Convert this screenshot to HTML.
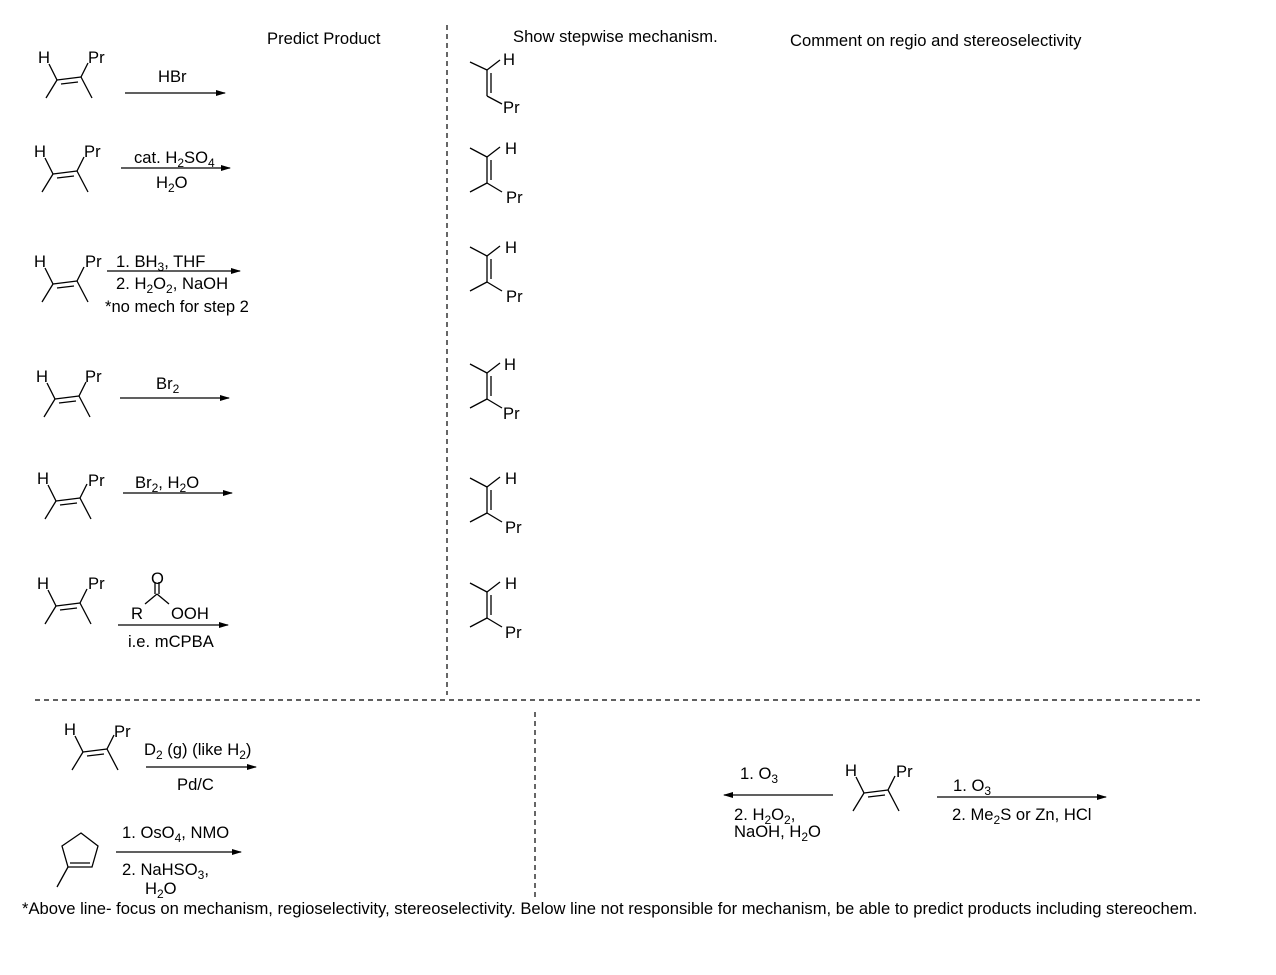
<!DOCTYPE html>
<html><head><meta charset="utf-8"><style>
html,body{margin:0;padding:0;background:#fff;}
svg{display:block}
text{font-family:"Liberation Sans",Arial,sans-serif;font-size:16.6px;fill:#000}
.s{font-size:12px}
</style></head><body>
<svg width="1276" height="975" viewBox="0 0 1276 975" xmlns="http://www.w3.org/2000/svg">
<defs>
<marker id="ar" markerWidth="10" markerHeight="6" refX="9" refY="3" orient="auto" markerUnits="userSpaceOnUse"><path d="M0,0 L10,3 L0,6 z" fill="#000"/></marker>
<g id="mol" stroke="#000" stroke-width="1.3" fill="none">
<line x1="4" y1="7" x2="12" y2="23"/>
<line x1="12" y1="23" x2="36" y2="20"/>
<line x1="16" y1="27" x2="33" y2="25"/>
<line x1="36" y1="20" x2="43" y2="6"/>
<line x1="36" y1="20" x2="47" y2="41"/>
<line x1="12" y1="23" x2="1" y2="41"/>
</g>
<g id="vm" stroke="#000" stroke-width="1.3" fill="none">
<line x1="-17" y1="-9" x2="0" y2="0"/>
<line x1="0" y1="0" x2="13" y2="-10"/>
<line x1="0" y1="0" x2="0" y2="26"/>
<line x1="4" y1="3" x2="4" y2="23"/>
<line x1="0" y1="26" x2="-17" y2="35"/>
<line x1="0" y1="26" x2="15" y2="35"/>
</g>
</defs>

<text x="267" y="44">Predict Product</text>
<text x="513" y="42">Show stepwise mechanism.</text>
<text x="790" y="46">Comment on regio and stereoselectivity</text>

<g stroke="#000" stroke-width="1.2" stroke-dasharray="5,4">
<line x1="447" y1="25" x2="447" y2="695"/>
<line x1="35" y1="700" x2="1200" y2="700"/>
<line x1="535" y1="712" x2="535" y2="900"/>
</g>

<g>
<use href="#mol" x="45" y="57"/><text x="38" y="63">H</text><text x="88" y="63">Pr</text>
<use href="#mol" x="41" y="151"/><text x="34" y="157">H</text><text x="84" y="157">Pr</text>
<use href="#mol" x="41" y="261"/><text x="34" y="267">H</text><text x="85" y="267">Pr</text>
<use href="#mol" x="43" y="376"/><text x="36" y="382">H</text><text x="85" y="382">Pr</text>
<use href="#mol" x="44" y="478"/><text x="37" y="484">H</text><text x="88" y="486">Pr</text>
<use href="#mol" x="44" y="583"/><text x="37" y="589">H</text><text x="88" y="589">Pr</text>
<use href="#mol" x="71" y="729"/><text x="64" y="735">H</text><text x="114" y="737">Pr</text>
<use href="#mol" x="852" y="770"/><text x="845" y="776">H</text><text x="896" y="777">Pr</text>
</g>

<g stroke="#000" stroke-width="1.2" marker-end="url(#ar)">
<line x1="125" y1="93" x2="225" y2="93"/>
<line x1="121" y1="168" x2="230" y2="168"/>
<line x1="107" y1="271" x2="240" y2="271"/>
<line x1="120" y1="398" x2="229" y2="398"/>
<line x1="123" y1="493" x2="232" y2="493"/>
<line x1="118" y1="625" x2="228" y2="625"/>
<line x1="146" y1="767" x2="256" y2="767"/>
<line x1="116" y1="852" x2="241" y2="852"/>
<line x1="833" y1="795" x2="724" y2="795"/>
<line x1="937" y1="797" x2="1106" y2="797"/>
</g>

<text x="158" y="82">HBr</text>
<text x="134" y="163">cat. H<tspan class="s" dy="4">2</tspan><tspan dy="-4">SO</tspan><tspan class="s" dy="4">4</tspan></text>
<text x="156" y="188">H<tspan class="s" dy="4">2</tspan><tspan dy="-4">O</tspan></text>
<text x="116" y="267">1.  BH<tspan class="s" dy="4">3</tspan><tspan dy="-4">, THF</tspan></text>
<text x="116" y="289">2. H<tspan class="s" dy="4">2</tspan><tspan dy="-4">O</tspan><tspan class="s" dy="4">2</tspan><tspan dy="-4">, NaOH</tspan></text>
<text x="105" y="312">*no mech for step 2</text>
<text x="156" y="389">Br<tspan class="s" dy="4">2</tspan></text>
<text x="135" y="488">Br<tspan class="s" dy="4">2</tspan><tspan dy="-4">,  H</tspan><tspan class="s" dy="4">2</tspan><tspan dy="-4">O</tspan></text>
<g stroke="#000" stroke-width="1.3" fill="none">
<line x1="145" y1="604" x2="157" y2="594"/>
<line x1="157" y1="594" x2="169" y2="604"/>
<line x1="155" y1="594" x2="155" y2="582"/>
<line x1="159" y1="594" x2="159" y2="582"/>
</g>
<text x="151" y="584">O</text>
<text x="131" y="619">R</text>
<text x="171" y="619">OOH</text>
<text x="128" y="647">i.e. mCPBA</text>
<text x="144" y="755">D<tspan class="s" dy="4">2</tspan><tspan dy="-4"> (g) (like H</tspan><tspan class="s" dy="4">2</tspan><tspan dy="-4">)</tspan></text>
<text x="177" y="790">Pd/C</text>
<text x="122" y="838">1. OsO<tspan class="s" dy="4">4</tspan><tspan dy="-4">, NMO</tspan></text>
<text x="122" y="875">2.  NaHSO<tspan class="s" dy="4">3</tspan><tspan dy="-4">,</tspan></text>
<text x="145" y="894">H<tspan class="s" dy="4">2</tspan><tspan dy="-4">O</tspan></text>
<g stroke="#000" stroke-width="1.3" fill="none">
<polygon points="81,833 98,846 92,867 68,867 62,846"/>
<line x1="70" y1="863" x2="90" y2="863"/>
<line x1="68" y1="867" x2="57" y2="887"/>
</g>
<text x="740" y="779">1.  O<tspan class="s" dy="4">3</tspan></text>
<text x="734" y="820">2.  H<tspan class="s" dy="4">2</tspan><tspan dy="-4">O</tspan><tspan class="s" dy="4">2</tspan><tspan dy="-4">,</tspan></text>
<text x="734" y="837">NaOH, H<tspan class="s" dy="4">2</tspan><tspan dy="-4">O</tspan></text>
<text x="953" y="791">1.  O<tspan class="s" dy="4">3</tspan></text>
<text x="952" y="820">2.  Me<tspan class="s" dy="4">2</tspan><tspan dy="-4">S or Zn, HCl</tspan></text>

<g stroke="#000" stroke-width="1.3" fill="none">
<line x1="470" y1="62" x2="487" y2="70"/>
<line x1="487" y1="70" x2="500" y2="60"/>
<line x1="487" y1="70" x2="487" y2="96"/>
<line x1="491" y1="73" x2="491" y2="93"/>
<line x1="487" y1="96" x2="502" y2="104"/>
</g>
<text x="503" y="65">H</text><text x="503" y="113">Pr</text>
<use href="#vm" x="487" y="157"/><text x="505" y="154">H</text><text x="506" y="203">Pr</text>
<use href="#vm" x="487" y="256"/><text x="505" y="253">H</text><text x="506" y="302">Pr</text>
<use href="#vm" x="487" y="373"/><text x="504" y="370">H</text><text x="503" y="419">Pr</text>
<use href="#vm" x="487" y="487"/><text x="505" y="484">H</text><text x="505" y="533">Pr</text>
<use href="#vm" x="487" y="592"/><text x="505" y="589">H</text><text x="505" y="638">Pr</text>

<text x="22" y="914">*Above line- focus on mechanism, regioselectivity, stereoselectivity. Below line not responsible for mechanism, be able to predict products including stereochem.</text>
</svg>
</body></html>
